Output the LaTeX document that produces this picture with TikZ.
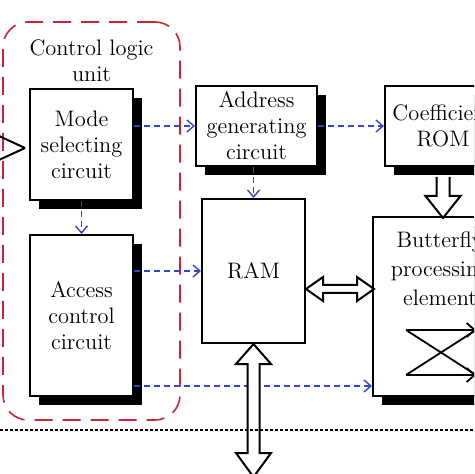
\documentclass[tikz,border=0pt]{standalone}
\usepackage{tikz}
\usetikzlibrary{positioning,arrows.meta,shadows,calc}

\definecolor{clured}{RGB}{204,36,52}
\definecolor{ctlblue}{RGB}{48,72,204}

\begin{document}
\begin{tikzpicture}[
    x=0.5pt, y=-0.5pt,
    font=\fontsize{11.2}{13}\selectfont,
    blk/.style={draw, line width=1pt, fill=white, align=center, inner sep=2pt},
    shblk/.style={blk, drop shadow={fill=black, opacity=1, shadow xshift=4.5pt, shadow yshift=-4.5pt}},
    grp/.style={draw=clured, line width=0.8pt, dash pattern=on 9pt off 5pt, rounded corners=12.5pt},
    ctl/.style={draw=ctlblue, line width=0.7pt, dash pattern=on 3pt off 2pt,
                -{Straight Barb[length=3.5pt,width=6pt]}},
    hollow/.style={draw, line width=1pt, fill=white, line join=miter},
    flow/.style={line width=0.9pt, -{Straight Barb[length=4pt,width=7pt]}}
]
\useasboundingbox (0,0) rectangle (474,474);
\clip (0,0) rectangle (474,474);

% control logic unit
\node[grp, minimum width=88.5pt, minimum height=199pt] (clu) at (91.5,221) {};
\node[align=center] (clulbl) at (91.5,61) {Control logic\\unit};
\node[shblk, minimum width=51.5pt, minimum height=55.5pt] (mode) at (81.5,144.5) {Mode\\selecting\\circuit};
\node[shblk, minimum width=51.5pt, minimum height=80.5pt] (access) at (81.5,315.5) {Access\\control\\circuit};

% address path and memories
\node[shblk, minimum width=60.5pt, minimum height=40pt] (addr) at (256.5,126) {Address\\generating\\circuit};
\node[shblk, minimum width=58pt, minimum height=40pt] (coef) at (443,126) {Coefficient\\ROM};
\node[blk, minimum width=51.5pt, minimum height=72pt] (ram) at (253.5,271) {RAM};
\node[shblk, minimum width=67pt, minimum height=89.5pt] (bfly) at (440,306.5) {};
\node[align=center, anchor=north, font=\fontsize{11.2}{14.5}\selectfont] (bflytxt) at ($(bfly.north)+(0,9)$) {Butterfly\\processing\\element};

% butterfly symbol
\coordinate (bx1) at ($(bfly.south west)+(34,-67)$);
\coordinate (bx2) at ($(bfly.south west)+(34,-22)$);
\coordinate (bx3) at ($(bfly.south west)+(104,-67)$);
\coordinate (bx4) at ($(bfly.south west)+(104,-22)$);
\draw[line width=0.9pt] (bx1) -- (bx4);
\draw[line width=0.9pt] (bx2) -- (bx3);
\draw[flow] (bx1) -- (bx3);
\draw[flow] (bx2) -- (bx4);

% control signals
\draw[ctl] (mode.east |- addr.west) -- (addr.west);
\draw[ctl] (addr.east) -- (coef.west);
\draw[ctl] (mode.south) -- (access.north);
\draw[ctl] (ram.north |- addr.south) -- (ram.north);
\draw[ctl] (access.east |- ram.west) -- (ram.west);
\draw[ctl] ($(access.south east)+(0,-11)$) coordinate (acc2) -- (acc2 -| bfly.west);

% data buses
\draw[hollow] (coef.south) ++(-6.5,10) -- ++(0,19) -- ++(-11,0) -- ++(17.5,22)
    -- ++(17.5,-22) -- ++(-11,0) -- ++(0,-19);
\draw[hollow] (ram.east) ++(0,18) -- ++(17,-12) -- ++(0,8) -- ++(34,0) -- ++(0,-8)
    -- ++(17,12) -- ++(-17,12) -- ++(0,-8) -- ++(-34,0) -- ++(0,8) -- cycle;
\draw[hollow] (ram.south) -- ++(17.5,20) -- ++(-11.5,0) -- ++(0,89) -- ++(11.5,0)
    -- ++(-17.5,24) -- ++(-17.5,-24) -- ++(11.5,0) -- ++(0,-89) -- ++(-11.5,0) -- cycle;
\draw[line width=1pt] (mode.west) ++(-4,3.5) coordinate (inp) -- ++(-31,-14.3);
\draw[line width=1pt] (inp) -- ++(-31,14.3);

% chip boundary
\draw[line width=0.7pt, dash pattern=on 1.5pt off 1pt] (-5,430) coordinate (bl) -- (480,430) coordinate (br);
\end{tikzpicture}
\end{document}
